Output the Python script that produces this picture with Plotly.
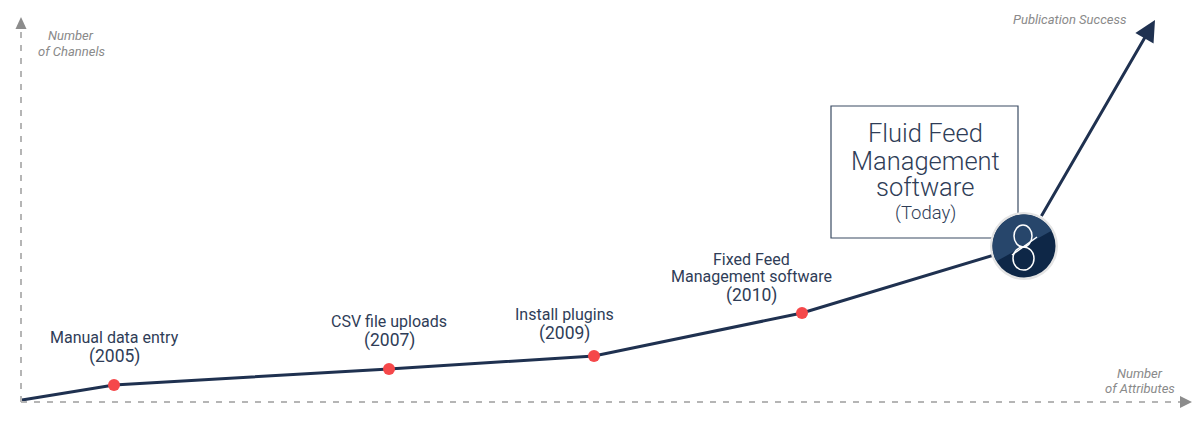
import numpy as np
import plotly.graph_objects as go

# milestones (x = number of attributes, y = number of channels, in chart units)
labels = [["Manual data entry"], ["CSV file uploads"], ["Install plugins"], ["Management software", "Fixed Feed"]]
years = ["(2005)", "(2007)", "(2009)", "(2010)"]
attributes = [114, 389, 594, 802]
channels = [36, 52, 65, 108]

start_x, start_y = 22, 21          # origin of the curve
today_x, today_y = 1024, 175       # "Fluid Feed Management software (Today)"
target_x, target_y = 1155, 401     # "Publication Success"

NAVY = "#1f3150"
RED = "#f5484a"
TEXT = "#2f3d57"
GREY = "#b5b5b5"
LABEL_GREY = "#8a8a8a"
FONT = "Roboto"

fig = go.Figure()

# main curve
fig.add_trace(go.Scatter(x=[start_x] + attributes + [today_x], y=[start_y] + channels + [today_y],
                         mode='lines', line=dict(color=NAVY, width=3), hoverinfo='skip'))
fig.add_trace(go.Scatter(x=attributes, y=channels, mode='markers',
                         marker=dict(color=RED, size=12), hoverinfo='skip'))

shapes = []
annotations = []

# dashed axes with arrow heads
shapes.append(dict(type='line', x0=21, y0=19, x1=21, y1=392, line=dict(color=GREY, width=2, dash='6px,7px')))
shapes.append(dict(type='path', path='M 15.5 392 L 26.5 392 L 21 404 Z', fillcolor='#8c8c8c', line=dict(width=0)))
shapes.append(dict(type='line', x0=21, y0=19, x1=1180, y1=19, line=dict(color=GREY, width=2, dash='6px,7px')))
shapes.append(dict(type='path', path='M 1180 13 L 1180 25 L 1192 19 Z', fillcolor='#8c8c8c', line=dict(width=0)))

# arrow to publication success
dx, dy = target_x - today_x, target_y - today_y
d = np.hypot(dx, dy)
ux, uy = dx / d, dy / d
annotations.append(dict(x=target_x, y=target_y, ax=today_x + ux * 33, ay=today_y + uy * 33,
                        xref='x', yref='y', axref='x', ayref='y', text='', showarrow=True,
                        arrowhead=2, arrowsize=1.4, arrowwidth=3, arrowcolor=NAVY))

# today box
shapes.append(dict(type='rect', x0=831, y0=183, x1=1018, y1=315, line=dict(color='#3a4b63', width=1.2),
                   fillcolor='white'))
for txt, y, size in [("Fluid Feed", 288, 25.5), ("Management", 260, 25.5), ("software", 234, 25.5), ("(Today)", 208, 18.5)]:
    annotations.append(dict(x=925, y=y, text=txt, showarrow=False, xref='x', yref='y',
                            font=dict(family=FONT, size=size, color=TEXT, weight=300)))

# logo circle
cx, cy = today_x, today_y
shapes.append(dict(type='circle', x0=cx - 34, y0=cy - 34, x1=cx + 34, y1=cy + 34,
                   fillcolor='#e4e4e4', line=dict(width=0)))
shapes.append(dict(type='circle', x0=cx - 31.5, y0=cy - 31.5, x1=cx + 31.5, y1=cy + 31.5,
                   fillcolor='#0e2747', line=dict(width=0)))
ang = np.radians(np.linspace(29, 209, 60))
pts = ["%.2f %.2f" % (cx + 31.5 * np.cos(a), cy + 31.5 * np.sin(a)) for a in ang]
shapes.append(dict(type='path', path='M ' + ' L '.join(pts) + ' Z', fillcolor='#27466b', line=dict(width=0)))
# glyph
shapes.append(dict(type='circle', x0=cx - 10, y0=cy - 1, x1=cx + 8, y1=cy + 21,
                   line=dict(color='white', width=1.5)))
shapes.append(dict(type='circle', x0=cx - 11, y0=cy - 24, x1=cx + 10, y1=cy - 1,
                   line=dict(color='white', width=1.5)))
shapes.append(dict(type='line', x0=cx - 12, y0=cy - 9, x1=cx + 13, y1=cy + 9,
                   line=dict(color='white', width=1.5)))

# milestone labels (pixel offsets of each text block from its point)
year_shift = [29, 29, 23, 18]
x_shift = [0, 0, -30, -51]
for x, y, lab, yr, off, xo in zip(attributes, channels, labels, years, year_shift, x_shift):
    annotations.append(dict(x=x, y=y, text=yr, showarrow=False, xref='x', yref='y', yanchor='middle',
                            xshift=xo, yshift=off, font=dict(family=FONT, size=17.5, color=TEXT)))
    for i, line in enumerate(lab):
        annotations.append(dict(x=x, y=y, text=line, showarrow=False, xref='x', yref='y', yanchor='middle',
                                xshift=xo, yshift=off + 19 + 17 * i,
                                font=dict(family=FONT, size=16, color=TEXT)))

# axis captions
ital = dict(family=FONT, size=13, color=LABEL_GREY, style='italic')
annotations.append(dict(x=71, y=386, text="Number", showarrow=False, xref='x', yref='y', font=ital))
annotations.append(dict(x=71, y=370, text="of Channels", showarrow=False, xref='x', yref='y', font=ital))
annotations.append(dict(x=1070, y=402, text="Publication Success", showarrow=False, xref='x', yref='y',
                        font=ital))
annotations.append(dict(x=1140, y=48, text="Number", showarrow=False, xref='x', yref='y', font=ital))
annotations.append(dict(x=1140, y=33, text="of Attributes", showarrow=False, xref='x', yref='y', font=ital))

# page has an 8px body margin, so the figure is 8px smaller and the ranges are shifted to match
fig.update_layout(
    width=1192, height=413,
    margin=dict(l=0, r=0, t=0, b=0),
    plot_bgcolor='white', paper_bgcolor='white',
    showlegend=False,
    xaxis=dict(range=[8, 1200], visible=False, fixedrange=True),
    yaxis=dict(range=[0, 413], visible=False, fixedrange=True),
    shapes=shapes,
    annotations=annotations,
)

fig.write_html("out.html")
